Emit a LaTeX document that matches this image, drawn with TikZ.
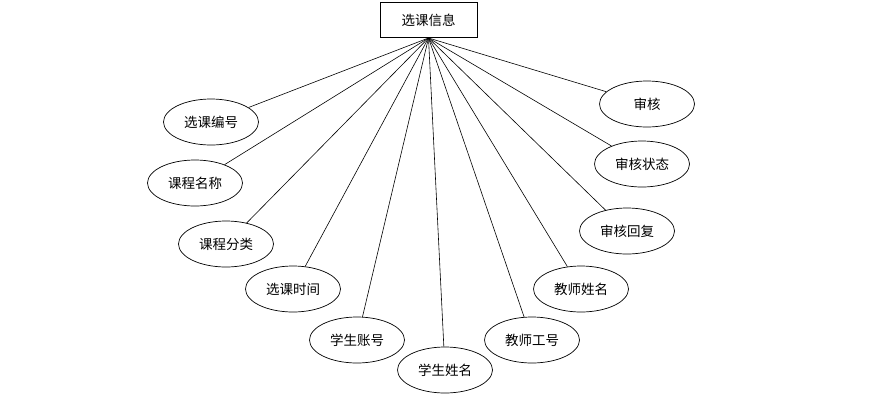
\documentclass[tikz,border=0pt]{standalone}
\usepackage{fontspec}
\setmainfont{Noto Sans CJK SC}
\usetikzlibrary{shapes.geometric}

\begin{document}
\begin{tikzpicture}[
        x=1pt, y=-1pt,
        entity/.style={rectangle, draw, line width=0.8pt, minimum width=97pt, minimum height=35pt, font=\fontsize{13.5}{15}\selectfont},
        attr/.style={ellipse, draw, line width=0.7pt, minimum width=95pt, minimum height=46pt, inner sep=0pt, font=\fontsize{13.5}{15}\selectfont},
        link/.style={line width=0.6pt}
    ]
        \useasboundingbox (0,0) rectangle (870,402);
        \node[entity] (info) at (428.5,20) {选课信息};
        \coordinate (hub) at (428.5,38);

        \node[attr] (xkbh) at (211,122) {选课编号};
        \node[attr] (kcmc) at (195,183) {课程名称};
        \node[attr] (kcfl) at (226,244) {课程分类};
        \node[attr] (xksj) at (293,289) {选课时间};
        \node[attr] (xszh) at (357,340) {学生账号};
        \node[attr] (xsxm) at (445,370) {学生姓名};
        \node[attr] (jsgh) at (532,340) {教师工号};
        \node[attr] (jsxm) at (581,289) {教师姓名};
        \node[attr] (shhf) at (627,231) {审核回复};
        \node[attr] (shzt) at (642,164) {审核状态};
        \node[attr] (sh) at (647,104) {审核};

        \foreach \n in {xkbh,kcmc,kcfl,xksj,xszh,xsxm,jsgh,jsxm,shhf,shzt,sh}
            \draw[link] (hub) -- (\n);
    \end{tikzpicture}
\end{document}
